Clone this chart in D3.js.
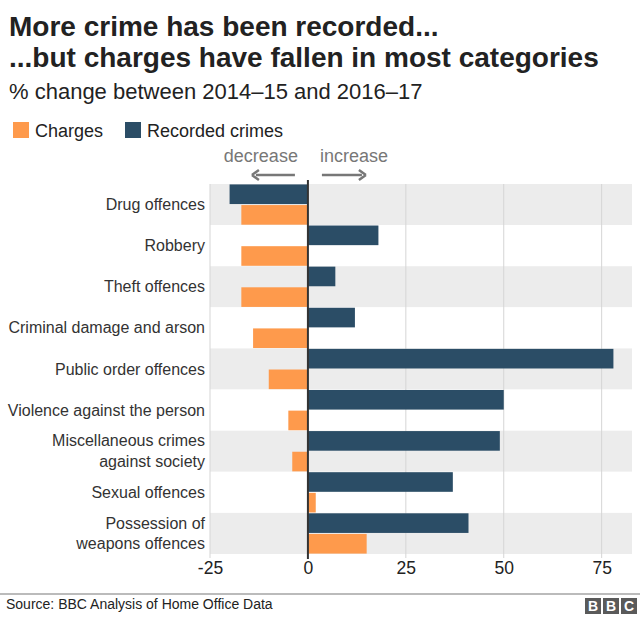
<!DOCTYPE html>
<html>
<head>
<meta charset="utf-8">
<script src="https://cdn.jsdelivr.net/npm/d3@7"></script>
<style>
  body { margin: 0; background: #fff; }
  svg { font-family: "Liberation Sans", Arial, sans-serif; }
</style>
</head>
<body>
<div id="chart"></div>
<script>
// data
var categories = [
  ["Drug offences"],
  ["Robbery"],
  ["Theft offences"],
  ["Criminal damage and arson"],
  ["Public order offences"],
  ["Violence against the person"],
  ["Miscellaneous crimes", "against society"],
  ["Sexual offences"],
  ["Possession of", "weapons offences"]
];
var recorded = [-20, 18, 7, 12, 78, 50, 49, 37, 41];
var charges = [-17, -17, -17, -14, -10, -5, -4, 2, 15];
var ticks = [-25, 0, 25, 50, 75];

var svgWidth = 640, svgHeight = 617;
var margin = { top: 184, right: 8, bottom: 63, left: 210 };
var width = svgWidth - margin.left - margin.right;
var height = svgHeight - margin.top - margin.bottom;

var svg = d3.select("#chart").append("svg")
  .attr("width", svgWidth)
  .attr("height", svgHeight);

// titles
svg.append("text").attr("x", 9).attr("y", 36)
  .attr("font-size", 28).attr("font-weight", "bold").attr("fill", "#222")
  .text("More crime has been recorded...");
svg.append("text").attr("x", 9).attr("y", 67)
  .attr("font-size", 28).attr("font-weight", "bold").attr("fill", "#222")
  .text("...but charges have fallen in most categories");
svg.append("text").attr("x", 9).attr("y", 99)
  .attr("font-size", 22).attr("fill", "#222")
  .text("% change between 2014\u201315 and 2016\u201317");

// legend
var legend = [["Charges", "#fe9a4c"], ["Recorded crimes", "#2b4d66"]];
var lx = [13, 125];
legend.forEach(function (d, i) {
  svg.append("rect").attr("x", lx[i]).attr("y", 122)
    .attr("width", 16).attr("height", 16).attr("fill", d[1]);
  svg.append("text").attr("x", lx[i] + 22).attr("y", 137)
    .attr("font-size", 18).attr("fill", "#222").text(d[0]);
});

var chartGroup = svg.append("g")
  .attr("transform", `translate(${margin.left}, ${margin.top})`);

var xScale = d3.scaleLinear()
  .domain([-25, 83])
  .range([0, width + 1]);

var yScale = d3.scaleBand()
  .domain(d3.range(categories.length))
  .range([0, height])
  .paddingInner(0);

var inner = d3.scaleBand()
  .domain(["recorded", "charges"])
  .range([0, yScale.bandwidth()])
  .paddingInner(0.05)
  .paddingOuter(0.02);

// alternating bands
chartGroup.append("g").selectAll("rect")
  .data(categories)
  .enter().append("rect")
  .attr("x", 0)
  .attr("y", (d, i) => yScale(i))
  .attr("width", width)
  .attr("height", yScale.bandwidth())
  .attr("fill", (d, i) => i % 2 === 0 ? "#ececec" : "#fff");

// gridlines
chartGroup.append("g").selectAll("line")
  .data(ticks.filter(t => t !== 0))
  .enter().append("line")
  .attr("x1", d => xScale(d)).attr("x2", d => xScale(d))
  .attr("y1", 0).attr("y2", height + 4)
  .attr("stroke", "#d5d5d5").attr("stroke-width", 1);

// bars
chartGroup.append("g").selectAll("rect")
  .data(recorded)
  .enter().append("rect")
  .attr("x", d => xScale(Math.min(0, d)))
  .attr("y", (d, i) => yScale(i) + inner("recorded"))
  .attr("width", d => Math.abs(xScale(d) - xScale(0)))
  .attr("height", inner.bandwidth())
  .attr("fill", "#2b4d66");

chartGroup.append("g").selectAll("rect")
  .data(charges)
  .enter().append("rect")
  .attr("x", d => xScale(Math.min(0, d)))
  .attr("y", (d, i) => yScale(i) + inner("charges"))
  .attr("width", d => Math.abs(xScale(d) - xScale(0)))
  .attr("height", inner.bandwidth())
  .attr("fill", "#fe9a4c");

// zero line
chartGroup.append("line")
  .attr("x1", xScale(0)).attr("x2", xScale(0))
  .attr("y1", -4).attr("y2", height + 5)
  .attr("stroke", "#333").attr("stroke-width", 2);

// x axis
var bottomAxis = d3.axisBottom(xScale).tickValues(ticks).tickSize(0).tickPadding(8)
  .tickFormat(d => String(d));
var xAxis = chartGroup.append("g")
  .attr("transform", `translate(0, ${height})`)
  .call(bottomAxis);
xAxis.select(".domain").remove();
xAxis.selectAll("text")
  .attr("font-family", "Liberation Sans, Arial, sans-serif")
  .attr("font-size", 17.5).attr("fill", "#222");

// category labels
var labels = chartGroup.append("g").selectAll("text")
  .data(categories)
  .enter().append("text")
  .attr("x", -5)
  .attr("y", (d, i) => yScale(i) + yScale.bandwidth() / 2)
  .attr("text-anchor", "end")
  .attr("font-size", 16)
  .attr("fill", "#333");
labels.each(function (d) {
  var t = d3.select(this);
  d.forEach(function (line, j) {
    t.append("tspan")
      .attr("x", -5)
      .attr("dy", j === 0 ? (d.length === 1 ? "0.35em" : "-0.3em") : "1.3em")
      .text(line);
  });
});

// direction arrows
var arrowY = -9;
var arrows = chartGroup.append("g").attr("fill", "#777").attr("stroke", "#777");
arrows.append("text").attr("x", xScale(0) - 10).attr("y", -22)
  .attr("text-anchor", "end").attr("font-size", 18).attr("stroke", "none")
  .text("decrease");
arrows.append("text").attr("x", xScale(0) + 12).attr("y", -22)
  .attr("text-anchor", "start").attr("font-size", 18).attr("stroke", "none")
  .text("increase");
arrows.append("line").attr("x1", xScale(0) - 13).attr("x2", xScale(0) - 52)
  .attr("y1", arrowY).attr("y2", arrowY).attr("stroke-width", 2.5);
arrows.append("path")
  .attr("d", `M${xScale(0) - 56},${arrowY} l7,-5 M${xScale(0) - 56},${arrowY} l7,5`)
  .attr("fill", "none").attr("stroke-width", 2.5);
arrows.append("line").attr("x1", xScale(0) + 14).attr("x2", xScale(0) + 54)
  .attr("y1", arrowY).attr("y2", arrowY).attr("stroke-width", 2.5);
arrows.append("path")
  .attr("d", `M${xScale(0) + 58},${arrowY} l-7,-5 M${xScale(0) + 58},${arrowY} l-7,5`)
  .attr("fill", "none").attr("stroke-width", 2.5);

// footer
svg.append("rect").attr("x", 0).attr("y", 593).attr("width", 640).attr("height", 2)
  .attr("fill", "#bbb");
svg.append("text").attr("x", 6).attr("y", 609)
  .attr("font-size", 14).attr("fill", "#222")
  .text("Source: BBC Analysis of Home Office Data");
["B", "B", "C"].forEach(function (ch, i) {
  var bx = 585 + i * 18;
  svg.append("rect").attr("x", bx).attr("y", 598).attr("width", 16).attr("height", 16)
    .attr("fill", "#5a5a5a");
  svg.append("text").attr("x", bx + 8).attr("y", 611)
    .attr("text-anchor", "middle").attr("font-size", 14).attr("font-weight", "bold")
    .attr("fill", "#fff").text(ch);
});
</script>
</body>
</html>
